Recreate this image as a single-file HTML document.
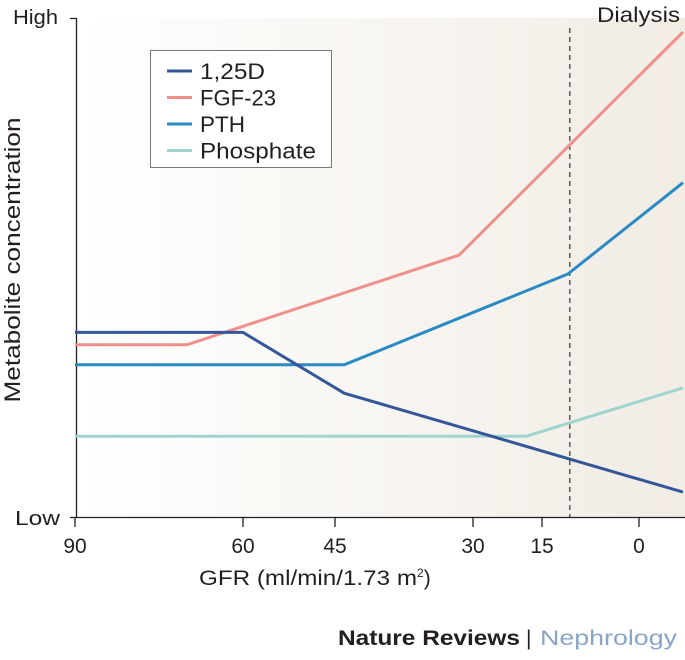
<!DOCTYPE html>
<html><head><meta charset="utf-8"><style>
body{margin:0;background:#fff;}
svg text{font-family:"Liberation Sans",sans-serif;fill:#231f20;}
</style></head><body>
<svg width="685" height="655" viewBox="0 0 685 655">
<defs><linearGradient id="bg" x1="0" x2="1" y1="0" y2="0"><stop offset="0" stop-color="#ffffff"/><stop offset="1" stop-color="#f1ece4"/></linearGradient></defs>
<rect x="76" y="18" width="609" height="500" fill="url(#bg)"/>
<g id="plot"></g>
<text x="20" y="260" font-size="22" text-anchor="middle" transform="rotate(-90 20 260)" textLength="285" lengthAdjust="spacingAndGlyphs">Metabolite concentration</text>
<text x="13" y="24" font-size="20" textLength="45" lengthAdjust="spacingAndGlyphs">High</text>
<text x="15" y="525" font-size="20" textLength="45" lengthAdjust="spacingAndGlyphs">Low</text>
<text x="199" y="585" font-size="21"><tspan textLength="218" lengthAdjust="spacingAndGlyphs">GFR (ml/min/1.73 m</tspan><tspan font-size="12" dy="-8">2</tspan><tspan dy="8">)</tspan></text>
<text x="597" y="22" font-size="21" textLength="83" lengthAdjust="spacingAndGlyphs">Dialysis</text>
<g>
<rect x="150.5" y="50.5" width="181" height="117" fill="#fff" stroke="#777" stroke-width="1"/>
</g>
<text x="338" y="645" font-size="21" font-weight="bold" textLength="182" lengthAdjust="spacingAndGlyphs">Nature Reviews</text>
<text x="526" y="645" font-size="21">|</text>
<text x="540" y="645" font-size="21" style="fill:#8aa5c8" textLength="137" lengthAdjust="spacingAndGlyphs">Nephrology</text>
</svg>
<script>
const tickValues=[90,60,45,30,15,0];
const seriesNames=["1,25D","FGF-23","PTH","Phosphate"];
const seriesColors=["#34579a","#f0908a","#2a8ac4","#9fd5ce"];
const gfr125D=[90,60,44,-6.8];
const val125D=[37,37,24.8,5];
const gfrFGF=[90,70,31.5,-6.8];
const valFGF=[34.5,34.5,52.5,97.2];
const gfrPTH=[90,44,11,-6.8];
const valPTH=[30.5,30.5,48.7,67];
const gfrPhos=[90,18.4,-6.8];
const valPhos=[16.2,16.2,25.9];
const dialysisGFR=10.7;
const NS="http://www.w3.org/2000/svg";
const tickPx=[75,243,335,473,542,639];
function xs(v){
  for(let i=0;i<tickValues.length-1;i++){
    const a=tickValues[i],b=tickValues[i+1];
    if(v<=a&&v>=b)return tickPx[i]+(a-v)/(a-b)*(tickPx[i+1]-tickPx[i]);
  }
  const n=tickValues.length-1;
  const slope=(tickPx[n]-tickPx[n-1])/(tickValues[n-1]-tickValues[n]);
  if(v<tickValues[n])return tickPx[n]+(tickValues[n]-v)*slope;
  return tickPx[0]-(v-tickValues[0])*(tickPx[1]-tickPx[0])/(tickValues[0]-tickValues[1]);
}
function ys(v){return 517-v*4.99;}
const g=document.getElementById('plot');
function mk(t,a){const e=document.createElementNS(NS,t);for(const k in a)e.setAttribute(k,a[k]);g.appendChild(e);return e;}
let d=mk('line',{x1:xs(dialysisGFR),x2:xs(dialysisGFR),y1:28,y2:517,stroke:'#333','stroke-width':1.2,'stroke-dasharray':'5,4'});


let ya=mk('path',{d:'M70 18.5H76.5V517.5',fill:'none',stroke:'#231f20','stroke-width':1.3});


let xa=mk('path',{d:'M70 517.5H685',fill:'none',stroke:'#231f20','stroke-width':1.3});


tickValues.forEach(v=>{
  const x=xs(v);
  let t=mk('line',{x1:x,x2:x,y1:517,y2:527,stroke:'#231f20','stroke-width':1.3});
  
  
  let l=mk('text',{x:x,y:553,'font-size':21,'text-anchor':'middle'});
  l.textContent=v;
  
  
});
const all=[[gfr125D,val125D],[gfrFGF,valFGF],[gfrPTH,valPTH],[gfrPhos,valPhos]];
const order=[3,2,1,0];
order.forEach(i=>{
  const [gx,gv]=all[i];
  const pts=gx.map((x,j)=>xs(x).toFixed(1)+','+ys(gv[j]).toFixed(1)).join(' ');
  let p=mk('polyline',{points:pts,fill:'none',stroke:seriesColors[i],'stroke-width':3,'stroke-linejoin':'miter'});
  
  
});
const legendWidths=[65,76,45,116];
const svg=document.querySelector('svg');
seriesNames.forEach((n,i)=>{
  const y=71+i*26.5;
  const ln=document.createElementNS(NS,'line');
  ln.setAttribute('x1',167);ln.setAttribute('x2',192);ln.setAttribute('y1',y);ln.setAttribute('y2',y);
  ln.setAttribute('stroke',seriesColors[i]);ln.setAttribute('stroke-width',3);
  
  
  svg.appendChild(ln);
  const t=document.createElementNS(NS,'text');
  t.setAttribute('x',200);t.setAttribute('y',y+8);t.setAttribute('font-size',22);
  t.setAttribute('lengthAdjust','spacingAndGlyphs');
  t.setAttribute('textLength',legendWidths[i]);
  t.textContent=n;
  
  
  svg.appendChild(t);
});
</script>
</body></html>
